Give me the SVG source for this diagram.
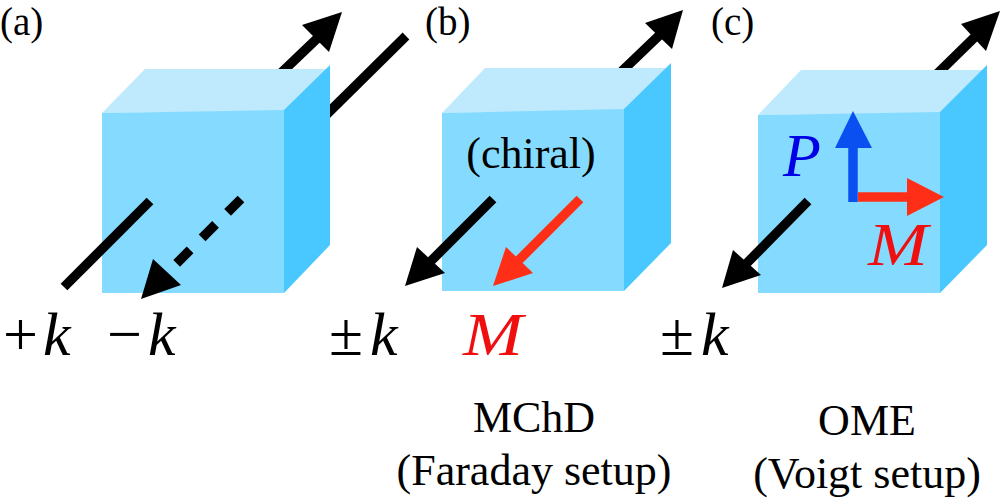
<svg xmlns="http://www.w3.org/2000/svg" width="1000" height="498" viewBox="0 0 1000 498">
<style>
text{font-family:"Liberation Serif","Times New Roman",serif;fill:#000}
.lab{font-size:39px}
.cap{font-size:44px;text-anchor:middle}
.math{font-size:62px}
.it{font-style:italic}
.front{fill:#84dbff}.top{fill:#bfeafd}.side{fill:#48c8fe}
.line{stroke:#000;stroke-width:9.5;fill:none}
.head{fill:#000}
.red{fill:#f00f0f}
</style>
<g id="connectors-behind">
<path class="line" d="M280 74L326 30"/><polygon class="head" points="342,12 302,25 329,52"/>
<path class="line" d="M406 36L325 116"/>
<path class="line" d="M620 73L667 28"/><polygon class="head" points="683,10 645,23 672,49"/>
<path class="line" d="M936 75L984 28"/><polygon class="head" points="1000,11 961,24 986,51"/>
</g>
<g id="cube-a">
<polygon class="top" points="102,113 145,69 330,69 284,111"/>
<polygon class="side" points="284,110 330,65 330,245 284,293"/>
<polygon class="front" points="102,113 284,110 284,293 102,293"/>
</g>
<g id="cube-b">
<polygon class="top" points="442,113 485,68 671,68 624,110"/>
<polygon class="side" points="624,109 671,63 671,243 624,291"/>
<polygon class="front" points="442,113 624,109 624,291 442,291"/>
</g>
<g id="cube-c">
<polygon class="top" points="758,115 801,70 987,70 940,113"/>
<polygon class="side" points="940,112 987,65 987,245 940,293"/>
<polygon class="front" points="758,115 940,112 940,293 758,293"/>
</g>
<g id="connectors-front">
<path class="line" d="M150 201L64 287"/>
<path class="line" d="M241 199L172 268" stroke-dasharray="19 17"/><polygon class="head" points="141,299 153,259 181,285"/>
<path class="line" d="M493 199L428 264"/><polygon class="head" points="405,286 417,247 445,273"/>
<path class="line" d="M580 199L517 262" style="stroke:#ff2f17"/><polygon points="493,286 506,247 533,273" fill="#ff2f17"/>
<path class="line" d="M808 201L745 265"/><polygon class="head" points="722,288 733,250 761,275"/>
<path class="line" d="M858 197H910" style="stroke:#ff2f17"/><polygon points="944,197 907,178 907,216" fill="#ff2f17"/>
<path class="line" d="M853 202V145" style="stroke:#0a50f0"/><polygon points="853,111 835,148 872,148" fill="#0a50f0"/>
</g>
<g id="labels">
<text class="lab" x="0" y="35">(a)</text>
<text class="lab" x="425" y="35">(b)</text>
<text class="lab" x="711" y="35">(c)</text>
<text class="cap" x="531" y="168">(chiral)</text>
<text class="math" x="3" y="355">+<tspan class="it" dx="5">k</tspan></text>
<text class="math" x="107" y="355">−<tspan class="it" dx="6">k</tspan></text>
<text class="math" x="329" y="355">±<tspan class="it" dx="7">k</tspan></text>
<text class="math" x="660" y="355">±<tspan class="it" dx="7">k</tspan></text>
<text class="math it red" x="463" y="355" textLength="60" lengthAdjust="spacingAndGlyphs">M</text>
<text class="math it red" x="868" y="265" textLength="60" lengthAdjust="spacingAndGlyphs">M</text>
<text class="math it" x="783" y="176" style="fill:#0000e6">P</text>
<text class="cap" x="534" y="432">MChD</text>
<text class="cap" x="534" y="485">(Faraday setup)</text>
<text class="cap" x="867" y="435">OME</text>
<text class="cap" x="867" y="488">(Voigt setup)</text>
</g>
</svg>
